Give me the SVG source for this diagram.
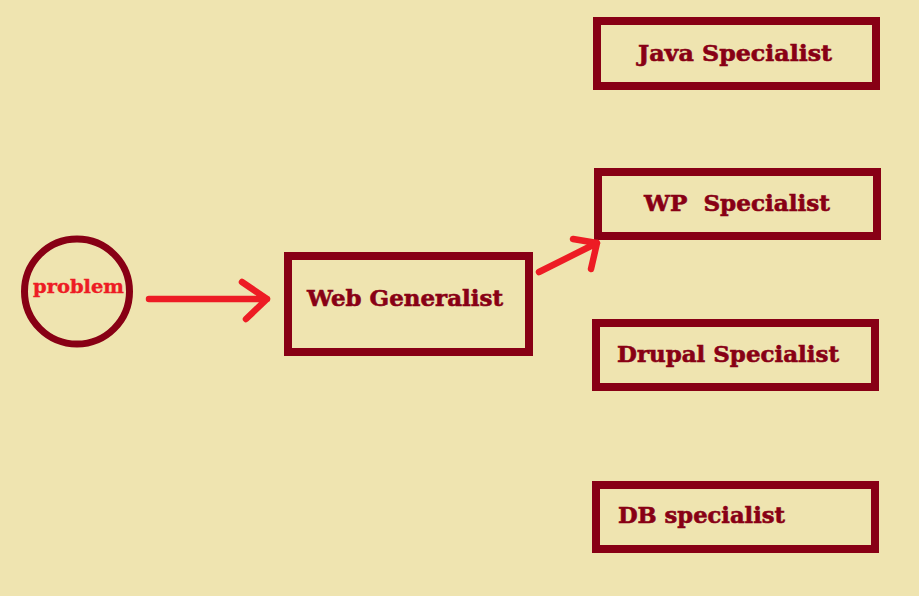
<svg xmlns="http://www.w3.org/2000/svg" width="919" height="596" viewBox="0 0 919 596">
<style>
.box{fill:none;stroke:#880015;stroke-width:8}
.lbl{font-family:"DejaVu Serif","Liberation Serif",serif;font-weight:bold;font-size:23px;fill:#880015;stroke:#880015;stroke-width:0.6}
.arr{fill:none;stroke:#ED1C24;stroke-width:6.5;stroke-linecap:round;stroke-linejoin:round}
</style>
<rect width="919" height="596" fill="#EFE4B0"/>
<g id="problem">
<circle cx="77" cy="291.5" r="52.5" fill="none" stroke="#880015" stroke-width="7"/>
<text x="33" y="293" textLength="91" lengthAdjust="spacingAndGlyphs" font-family="DejaVu Serif,serif" font-weight="bold" font-size="19" fill="#ED1C24" stroke="#ED1C24" stroke-width="0.4">problem</text>
</g>
<g id="web-generalist">
<rect class="box" x="288" y="256" width="241" height="96"/>
<text class="lbl" x="307" y="306" textLength="196" lengthAdjust="spacingAndGlyphs">Web Generalist</text>
</g>
<g id="java">
<rect class="box" x="597" y="21" width="279" height="65"/>
<text class="lbl" x="638" y="61" textLength="194" lengthAdjust="spacingAndGlyphs">Java Specialist</text>
</g>
<g id="wp">
<rect class="box" x="598" y="172" width="279" height="64"/>
<text class="lbl" x="644" y="211" xml:space="preserve" textLength="186" lengthAdjust="spacingAndGlyphs">WP  Specialist</text>
</g>
<g id="drupal">
<rect class="box" x="596" y="323" width="279" height="64"/>
<text class="lbl" x="617" y="362" textLength="222" lengthAdjust="spacingAndGlyphs">Drupal Specialist</text>
</g>
<g id="db">
<rect class="box" x="596" y="485" width="279" height="64"/>
<text class="lbl" x="618" y="523" textLength="167" lengthAdjust="spacingAndGlyphs">DB specialist</text>
</g>
<g id="connectors">
<path class="arr" d="M149,299 L267,299 M242,282 L267,299 L246,319"/>
<path class="arr" d="M539,272 L597,243 M573,239 L597,243 L591,269"/>
</g>
</svg>
